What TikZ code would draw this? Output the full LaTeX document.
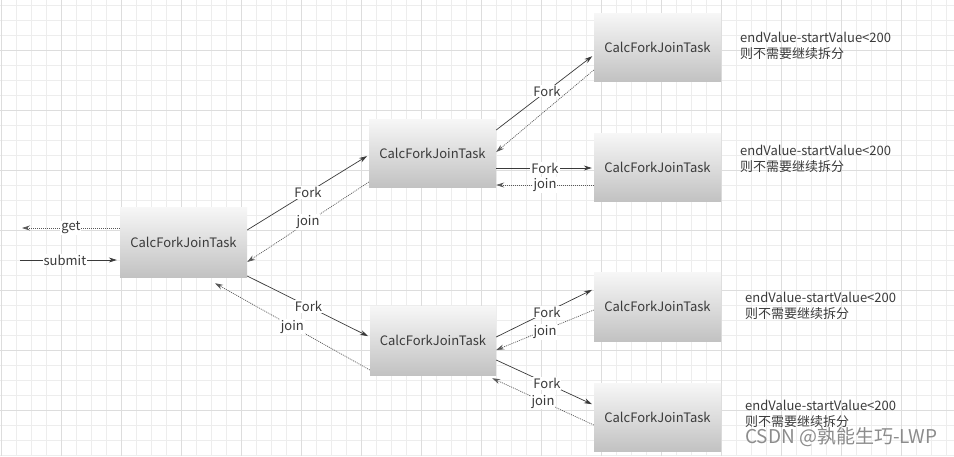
\documentclass[tikz,border=0pt]{standalone}
\usepackage{fontspec}
\setmainfont{Noto Sans CJK SC}
\usetikzlibrary{arrows.meta,calc}
\definecolor{gridminor}{HTML}{EDEDED}
\definecolor{gridmajor}{HTML}{DDDDDD}
\definecolor{boxtop}{HTML}{F7F7F7}
\definecolor{boxbot}{HTML}{C2C2C2}
\definecolor{ink}{HTML}{3A3A3A}
\tikzset{
  taskbox/.style={rectangle, top color=boxtop, bottom color=boxbot, draw=none,
    minimum width=127pt, minimum height=69pt, inner sep=0pt,
    font=\fontsize{13}{15}\selectfont, text=ink},
  forkline/.style={draw=ink, line width=0.7pt, -{Stealth[length=8pt,width=5pt]}},
  joinline/.style={draw=ink!85, line width=0.7pt, dash pattern=on 1pt off 1pt, -{Stealth[length=8pt,width=5pt]}},
  lbl/.style={fill=white, inner sep=1pt, font=\fontsize{13}{15}\selectfont, text=ink},
  note/.style={anchor=west, align=left, inner sep=0pt, font=\fontsize{13}{16}\selectfont, text=ink},
}
\begin{document}
\begin{tikzpicture}[x=1pt,y=-1pt]
\useasboundingbox (0,0) rectangle (954,456);
\fill[white] (0,0) rectangle (954,456);
% grid
\foreach \gx in {1,16,...,954} \draw[gridminor, line width=0.8pt] (\gx,0) -- (\gx,456);
\foreach \gy in {5,20,...,456} \draw[gridminor, line width=0.8pt] (0,\gy) -- (954,\gy);
\foreach \gx in {1,61,...,954} \draw[gridmajor, line width=0.9pt] (\gx,0) -- (\gx,456);
\foreach \gy in {50,110,...,456} \draw[gridmajor, line width=0.9pt] (0,\gy) -- (954,\gy);

% boxes
\node[taskbox, minimum height=70pt] (A) at (183.5,242) {CalcForkJoinTask};
\node[taskbox, minimum height=68pt] (B1) at (432.5,153) {CalcForkJoinTask};
\node[taskbox, minimum width=126pt] (B2) at (433,340.5) {CalcForkJoinTask};
\node[taskbox, minimum height=68pt] (C1) at (657.5,47) {CalcForkJoinTask};
\node[taskbox, minimum height=68pt] (C2) at (657.5,167) {CalcForkJoinTask};
\node[taskbox] (C3) at (657.5,306.5) {CalcForkJoinTask};
\node[taskbox, minimum height=68pt] (C4) at (657.5,417) {CalcForkJoinTask};

% get / submit
\coordinate (getend) at (22,228);
\coordinate (substart) at (20,260);
\draw[joinline] ([yshift=14pt]A.west) -- node[lbl, pos=0.5] {get} (getend);
\draw[forkline, shorten >=3pt] (substart) -- node[lbl, pos=0.45] {submit} ([yshift=-18pt]A.west);

% A <-> B1
\draw[forkline, shorten >=2pt] ([yshift=12pt]A.east) -- node[lbl, pos=0.5] {Fork} ([yshift=-2pt]B1.west);
\draw[joinline] ([yshift=-29pt]B1.west) -- node[lbl, pos=0.5] {join} ([yshift=-20pt]A.east);

% A <-> B2
\draw[forkline, shorten >=2pt] ([yshift=-34pt]A.east) -- node[lbl, pos=0.5] {Fork} ([yshift=3.5pt]B2.west);
\draw[joinline] ([yshift=-29.5pt]B2.west) -- node[lbl, pos=0.5] {join} ([shift={(31.5pt,-6pt)}]A.south);

% B1 <-> C1
\draw[forkline, shorten >=2pt] ([yshift=23pt]B1.east) -- node[lbl, pos=0.52] {Fork} ([yshift=-8pt]C1.west);
\draw[joinline] ([yshift=-23pt]C1.west) -- ([yshift=1pt]B1.east);

% B1 <-> C2
\draw[forkline, shorten >=2pt] ([yshift=-15pt]B1.east) -- node[lbl, pos=0.5] {Fork} ([yshift=-1pt]C2.west);
\draw[joinline] ([yshift=-18pt]C2.west) -- node[lbl, pos=0.5] {join} ([yshift=-32pt]B1.east);

% B2 <-> C3
\draw[forkline, shorten >=2pt] ([yshift=3.5pt]B2.east) -- node[lbl, pos=0.52] {Fork} ([yshift=17.5pt]C3.west);
\draw[joinline] ([yshift=-3.5pt]C3.west) -- node[lbl, pos=0.5, yshift=-2pt] {join} ([yshift=-9.5pt]B2.east);

% B2 <-> C4
\draw[forkline, shorten >=2pt] ([yshift=-19.5pt]B2.east) -- node[lbl, pos=0.52] {Fork} ([yshift=12pt]C4.west);
\draw[joinline] ([yshift=-8pt]C4.west) -- node[lbl, pos=0.5] {join} ([shift={(-4pt,-3pt)}]B2.south east);

% notes
\node[note] (n1) at (740,46) {endValue-startValue<200\\则不需要继续拆分};
\node[note] (n2) at (740,159) {endValue-startValue<200\\则不需要继续拆分};
\node[note] (n3) at (745,306) {endValue-startValue<200\\则不需要继续拆分};
\node[note] (n4) at (745,414) {endValue-startValue<200\\则不需要继续拆分};

% watermark text
\node[anchor=west, inner sep=0pt, font=\fontsize{19}{21}\selectfont, text=black!45] (csdn) at (745,437) {CSDN @孰能生巧-LWP};
\end{tikzpicture}
\end{document}
